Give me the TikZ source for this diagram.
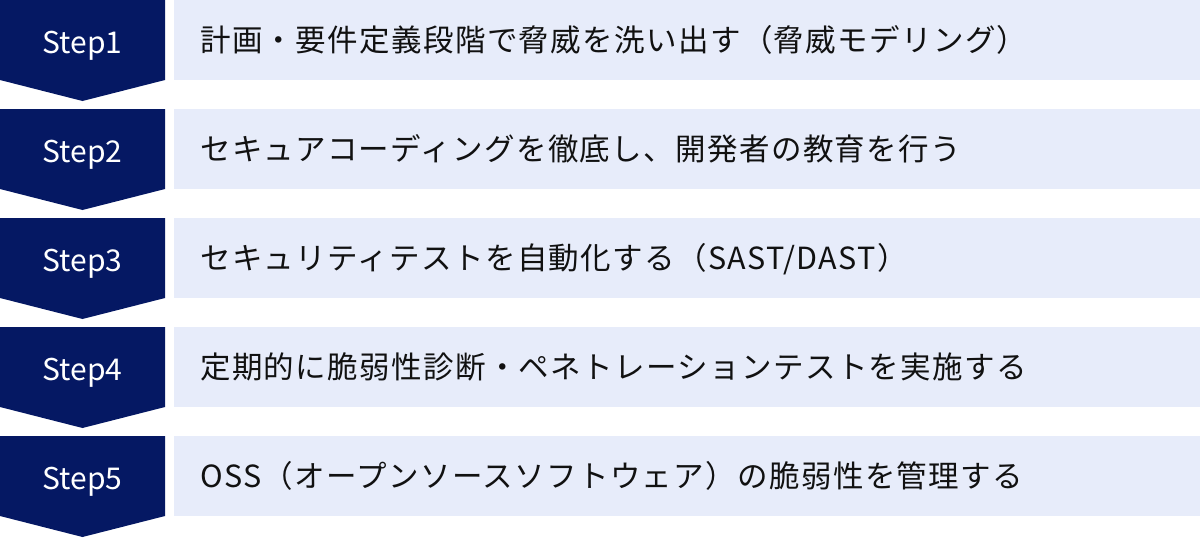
\documentclass[tikz,border=0pt]{standalone}
\usepackage{fontspec}
\setmainfont{Noto Sans CJK JP}
\usepackage{tikz}
\definecolor{StepNavy}{RGB}{5,24,99}
\definecolor{RowBlue}{RGB}{231,236,250}
\definecolor{TextBlack}{RGB}{17,17,17}
\tikzset{stepflag/.style={fill=StepNavy},
  rowbar/.style={fill=RowBlue},
  steplabel/.style={text=white,anchor=base,inner sep=0pt,font=\fontsize{30}{36}\selectfont},
  rowtext/.style={text=TextBlack,anchor=base west,inner sep=0pt,
    font=\fontsize{30.5}{36}\selectfont\addfontfeatures{LetterSpace=4.5}}}

\begin{document}
\begin{tikzpicture}[x=1pt,y=-1pt]
\useasboundingbox (0,0) rectangle (1200,538);

\fill[stepflag] (0,0) -- (165,0) -- (165,80) -- (82.5,101) -- (0,80) -- cycle;
\fill[rowbar] (174,0) rectangle (1200,80);
\node[steplabel] (step1) at (82.5,53) {Step1};
\node[rowtext] (text1) at (200,51.5) {計画・要件定義段階で脅威を洗い出す（脅威モデリング）};

\fill[stepflag] (0,109) -- (165,109) -- (165,189) -- (82.5,210) -- (0,189) -- cycle;
\fill[rowbar] (174,109) rectangle (1200,189);
\node[steplabel] (step2) at (82.5,162) {Step2};
\node[rowtext] (text2) at (200,160.5) {セキュアコーディングを徹底し、開発者の教育を行う};

\fill[stepflag] (0,218) -- (165,218) -- (165,298) -- (82.5,319) -- (0,298) -- cycle;
\fill[rowbar] (174,218) rectangle (1200,298);
\node[steplabel] (step3) at (82.5,271) {Step3};
\node[rowtext] (text3) at (200,269.5) {セキュリティテストを自動化する（SAST/DAST）};

\fill[stepflag] (0,327) -- (165,327) -- (165,407) -- (82.5,428) -- (0,407) -- cycle;
\fill[rowbar] (174,327) rectangle (1200,407);
\node[steplabel] (step4) at (82.5,380) {Step4};
\node[rowtext] (text4) at (200,378.5) {定期的に脆弱性診断・ペネトレーションテストを実施する};

\fill[stepflag] (0,436) -- (165,436) -- (165,516) -- (82.5,537) -- (0,516) -- cycle;
\fill[rowbar] (174,436) rectangle (1200,516);
\node[steplabel] (step5) at (82.5,489) {Step5};
\node[rowtext] (text5) at (200,487.5) {OSS（オープンソースソフトウェア）の脆弱性を管理する};
\end{tikzpicture}
\end{document}
